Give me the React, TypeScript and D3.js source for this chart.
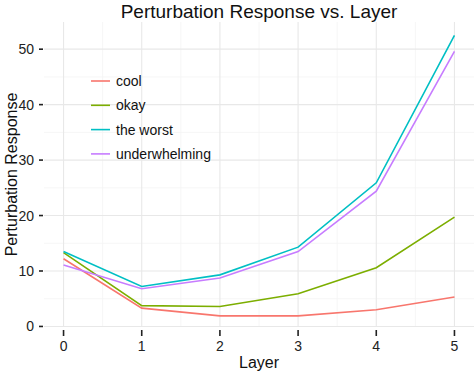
import React from "react";
import * as d3 from "d3";

const layers = [0, 1, 2, 3, 4, 5];
const seriesNames = ["cool", "okay", "the worst", "underwhelming"];
const cool = [12.2, 3.3, 1.9, 1.9, 3.0, 5.3];
const okay = [13.3, 3.75, 3.6, 5.9, 10.6, 19.7];
const theWorst = [13.5, 7.2, 9.3, 14.3, 25.9, 52.5];
const underwhelming = [11.1, 6.8, 8.75, 13.5, 24.4, 49.6];
const colors = ["#F8766D", "#7CAE00", "#00BFC4", "#C77CFF"];
const yTicks = [0, 10, 20, 30, 40, 50];
const yMinor = [5, 15, 25, 35, 45];
const xMinor = [0.5, 1.5, 2.5, 3.5, 4.5];

const W = 474, H = 372;
const left = 44, right = 474, top = 22, bottom = 327;
const font = "'Liberation Sans', Arial, Helvetica, sans-serif";

export default function App() {
  const x = d3.scaleLinear().domain([-0.25, 5.25]).range([left, right]);
  const y = d3.scaleLinear().domain([-0.1, 54.9]).range([bottom, top]);
  const data = [cool, okay, theWorst, underwhelming];
  const line = d3.line<number>().x((_, i) => x(layers[i])).y(d => y(d));
  return (
    <svg width={W} height={H} style={{ position: "absolute", left: 0, top: 0, background: "#fff" }} fontFamily={font}>
      <rect x={left} y={top} width={right - left} height={bottom - top} fill="#fff" />
      {yMinor.map(v => <line key={"ym" + v} x1={left} x2={right} y1={y(v)} y2={y(v)} stroke="#f4f4f4" strokeWidth={0.8} />)}
      {xMinor.map(v => <line key={"xm" + v} x1={x(v)} x2={x(v)} y1={top} y2={bottom} stroke="#f4f4f4" strokeWidth={0.8} />)}
      {yTicks.map(v => <line key={"yg" + v} x1={left} x2={right} y1={y(v)} y2={y(v)} stroke="#e8e8e8" strokeWidth={1.1} />)}
      {layers.map(v => <line key={"xg" + v} x1={x(v)} x2={x(v)} y1={top} y2={bottom} stroke="#e8e8e8" strokeWidth={1.1} />)}
      {data.map((d, i) => <path key={seriesNames[i]} d={line(d) || ""} fill="none" stroke={colors[i]} strokeWidth={1.6} />)}
      {yTicks.map(v => (
        <g key={"yt" + v}>
          <line x1={39} x2={43} y1={y(v)} y2={y(v)} stroke="#222" strokeWidth={1.6} />
          <text x={34} y={y(v)} dy="0.36em" textAnchor="end" fontSize={14} fill="#222">{v}</text>
        </g>
      ))}
      {layers.map(v => (
        <g key={"xt" + v}>
          <line x1={x(v)} x2={x(v)} y1={330} y2={336} stroke="#222" strokeWidth={1.6} />
          <text x={x(v)} y={351} textAnchor="middle" fontSize={14} fill="#222">{v}</text>
        </g>
      ))}
      <text x={259} y={18} textAnchor="middle" fontSize={19} fill="#111">Perturbation Response vs. Layer</text>
      <text x={259} y={368} textAnchor="middle" fontSize={16} fill="#111">Layer</text>
      <text transform={`translate(17,${(top + bottom) / 2}) rotate(-90)`} textAnchor="middle" fontSize={16} fill="#111">Perturbation Response</text>
      {seriesNames.map((n, i) => (
        <g key={"lg" + n} transform={`translate(0,${81 + i * 24.3})`}>
          <line x1={91} x2={110} y1={0} y2={0} stroke={colors[i]} strokeWidth={1.6} />
          <text x={116} y={0} dy="0.36em" fontSize={14} fill="#111">{n}</text>
        </g>
      ))}
    </svg>
  );
}
